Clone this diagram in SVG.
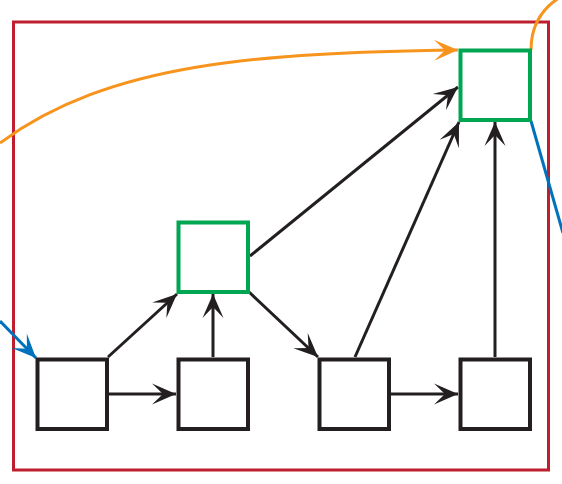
<svg xmlns="http://www.w3.org/2000/svg" width="562" height="484" viewBox="0 0 562 484">
<style>
.box{fill:#fff;stroke:#231f20;stroke-width:4}
.gbox{fill:#fff;stroke:#00a651;stroke-width:4}
.edge{fill:none;stroke:#231f20;stroke-width:3}
.org{fill:none;stroke:#f7941d;stroke-width:3}
.blu{fill:none;stroke:#0072bc;stroke-width:3}
</style>
<defs>
<marker id="ak" markerUnits="userSpaceOnUse" viewBox="-26 -12 28 24" refX="0" refY="0" markerWidth="28" markerHeight="24" orient="auto"><path d="M0,0 L-24,-10.5 L-13,0 L-24,10.5 Z" fill="#231f20"/></marker>
<marker id="ao" markerUnits="userSpaceOnUse" viewBox="-26 -12 28 24" refX="0" refY="0" markerWidth="28" markerHeight="24" orient="auto"><path d="M0,0 L-24,-10.5 L-13,0 L-24,10.5 Z" fill="#f7941d"/></marker>
<marker id="ab" markerUnits="userSpaceOnUse" viewBox="-26 -12 28 24" refX="0" refY="0" markerWidth="28" markerHeight="24" orient="auto"><path d="M0,0 L-24,-10.5 L-13,0 L-24,10.5 Z" fill="#0072bc"/></marker>
</defs>
<rect id="frame" x="13.5" y="22" width="535" height="448" fill="none" stroke="#be1e2d" stroke-width="3"/>
<g id="connectors">
<path class="org" d="M0,143 C110,62 260,53 458,50" marker-end="url(#ao)"/>
<path class="org" d="M531,50 C531,22 545,6 562,-4"/>
<path class="blu" d="M0,321 L36,358" marker-end="url(#ab)"/>
<path class="blu" d="M531,121 L563,233"/>
<path class="edge" d="M108,394 L176,394" marker-end="url(#ak)"/>
<path class="edge" d="M108,357 L177,294" marker-end="url(#ak)"/>
<path class="edge" d="M213,357 L213,294" marker-end="url(#ak)"/>
<path class="edge" d="M249,292 L318,357" marker-end="url(#ak)"/>
<path class="edge" d="M250,256 L458,87" marker-end="url(#ak)"/>
<path class="edge" d="M355,357 L459,122" marker-end="url(#ak)"/>
<path class="edge" d="M495,357 L495,122" marker-end="url(#ak)"/>
<path class="edge" d="M390,394 L458,394" marker-end="url(#ak)"/>
</g>
<g id="n1"><rect class="box" x="37.5" y="359.5" width="69.5" height="69.5"/></g>
<g id="n2"><rect class="box" x="178.5" y="359.5" width="69.5" height="69.5"/></g>
<g id="n3"><rect class="box" x="319.5" y="359.5" width="69.5" height="69.5"/></g>
<g id="n4"><rect class="box" x="460.5" y="359.5" width="69.5" height="69.5"/></g>
<g id="g1"><rect class="gbox" x="178.5" y="222.5" width="69.5" height="69.5"/></g>
<g id="g2"><rect class="gbox" x="460.5" y="50.5" width="69.5" height="69.5"/></g>
</svg>
